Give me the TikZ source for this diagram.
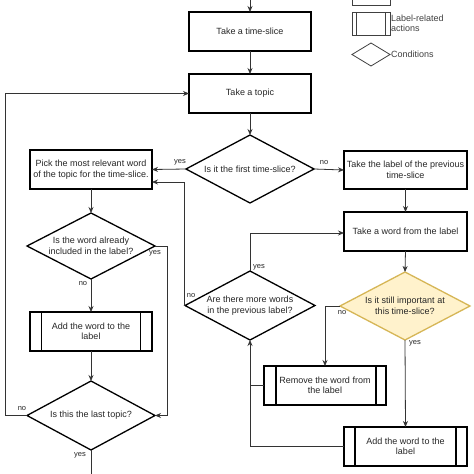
\documentclass[tikz,border=0pt]{standalone}
\usepackage{fontspec}
\setmainfont{Liberation Sans}
\usetikzlibrary{shapes.geometric,arrows.meta}
\definecolor{txtc}{HTML}{262626}
\definecolor{linec}{HTML}{333333}
\definecolor{yfill}{HTML}{FFF2CC}
\definecolor{ydraw}{HTML}{D6B656}
\tikzset{
  box/.style={draw=black, line width=1.3pt, rectangle, minimum width=122pt, minimum height=39pt, inner sep=0pt, outer sep=0pt, align=center, text=txtc, font=\fontsize{9}{10.5}\selectfont},
  dia/.style={draw=black, line width=1.3pt, diamond, minimum width=128pt, minimum height=68pt, inner sep=0pt, outer sep=0pt},
  dtext/.style={align=center, text=txtc, font=\fontsize{9}{10.5}\selectfont, inner sep=0pt},
  conn/.style={draw=linec, line width=0.8pt},
  arr/.style={conn, -{Stealth[length=6pt,width=5pt]}},
  lab/.style={text=txtc, font=\fontsize{7.5}{9}\selectfont, inner sep=0pt},
  leg/.style={draw=black!75, line width=0.8pt},
  legtext/.style={text=black!75, font=\fontsize{9}{10.5}\selectfont, inner sep=0pt, align=left, anchor=west}
}
\begin{document}
\begin{tikzpicture}[x=1pt,y=-1pt]
\useasboundingbox (0,0) rectangle (474,474);
\clip (0,0) rectangle (474,474);
\fill[white] (0,0) rectangle (474,474);

% legend
\node[leg, rectangle, minimum width=38pt, minimum height=23pt, inner sep=0pt, outer sep=0pt] (leg1) at (371,-6.5) {};
\node[leg, rectangle, minimum width=38pt, minimum height=23pt, inner sep=0pt, outer sep=0pt] (leg2) at (371,23.5) {};
\draw[leg] ([xshift=4.5pt]leg2.north west) -- ([xshift=4.5pt]leg2.south west);
\draw[leg] ([xshift=-4.5pt]leg2.north east) -- ([xshift=-4.5pt]leg2.south east);
\node[legtext] (leg2t) at (391,23.5) {Label-related\\actions};
\node[leg, diamond, minimum width=38pt, minimum height=23pt, inner sep=0pt, outer sep=0pt] (leg3) at (371,54.5) {};
\node[legtext] (leg3t) at (391,54.5) {Conditions};

% main boxes
\coordinate (start) at (250,0);
\node[box] (ts) at (250,31.5) {Take a time-slice};
\node[box] (tp) at (250,93.5) {Take a topic};
\node[dia] (d1) at (250,169) {};
\node[dtext] (d1t) at (250,169) {Is it the first time-slice?};
\node[box] (pick) at (91,169.5) {Pick the most relevant word\\of the topic for the time-slice.};
\node[box, minimum width=123pt, minimum height=38pt] (prev) at (405.5,170) {Take the label of the previous\\time-slice};
\node[box, minimum width=123pt] (word) at (405.5,231.5) {Take a word from the label};
\node[dia, minimum height=66pt] (d2) at (91,246) {};
\node[dtext] (d2t) at (91,246) {Is the word already\\included in the label?};
\node[box] (addL) at (91,331.5) {Add the word to the\\label};
\draw[line width=1.3pt] ([xshift=11.5pt]addL.north west) -- ([xshift=11.5pt]addL.south west);
\draw[line width=1.3pt] ([xshift=-11.5pt]addL.north east) -- ([xshift=-11.5pt]addL.south east);
\node[dia, minimum height=69pt] (d3) at (91,415.5) {};
\node[dtext] (d3t) at (91,415.5) {Is this the last topic?};
\node[dia, minimum width=130pt, minimum height=69pt] (d4) at (250,305.5) {};
\node[dtext] (d4t) at (250,305.5) {Are there more words\\in the previous label?};
\node[dia, draw=ydraw, fill=yfill, minimum width=130pt, minimum height=68pt] (dy) at (405,306) {};
\node[dtext] (dyt) at (405,306) {Is it still important at\\this time-slice?};
\node[box] (rem) at (325,385.5) {Remove the word from\\the label};
\draw[line width=1.3pt] ([xshift=12pt]rem.north west) -- ([xshift=12pt]rem.south west);
\draw[line width=1.3pt] ([xshift=-10pt]rem.north east) -- ([xshift=-10pt]rem.south east);
\node[box, minimum width=123pt] (addR) at (405.5,446.5) {Add the word to the\\label};
\draw[line width=1.3pt] ([xshift=11pt]addR.north west) -- ([xshift=11pt]addR.south west);
\draw[line width=1.3pt] ([xshift=-11pt]addR.north east) -- ([xshift=-11pt]addR.south east);

% connectors
\draw[arr] (start) -- (ts.north);
\draw[arr] (ts.south) -- (tp.north);
\draw[arr] (tp.south) -- (d1.north);
\draw[arr] (d1.west) -- (pick.east);
\node[lab] (l1) at (180,162.5) {yes};
\draw[arr] (d1.east) -- (prev.west);
\node[lab] (l2) at (324,162.5) {no};
\draw[arr] (prev.south) -- (word.north);
\draw[arr] (word.south) -- (dy.north);
\coordinate (c1) at (325,306);
\draw[arr] (dy.west) -- (c1) -- (rem.north);
\node[lab] (l3) at (342,313) {no};
\draw[arr] (dy.south) -- (addR.north);
\node[lab] (l4) at (415,343) {yes};
\coordinate (c2) at (250,385.5);
\draw[conn] (rem.west) -- (c2);
\draw[arr] (addR.west) -| (d4.south);
\coordinate (c3) at (250,233);
\draw[conn] (d4.north) -- (c3);
\draw[arr] (c3) -- (c3 -| word.west);
\node[lab] (l5) at (259,267) {yes};
\coordinate (c4) at (184,305.5);
\coordinate (c5) at (184,182);
\draw[arr] (d4.west) -- (c4) -- (c5) -- (c5 -| pick.east);
\node[lab] (l6) at (191,296) {no};
\draw[arr] (pick.south) -- (d2.north);
\coordinate (c6) at (167,246);
\draw[arr] (d2.east) -- (c6) |- (d3.east);
\node[lab] (l7) at (155,253) {yes};
\draw[arr] (d2.south) -- (addL.north);
\node[lab] (l8) at (83,284) {no};
\draw[arr] (addL.south) -- (d3.north);
\coordinate (c7) at (5,415.5);
\draw[arr] (d3.west) -- (c7) |- (tp.west);
\node[lab] (l9) at (22,409) {no};
\coordinate (endp) at (91,474);
\draw[conn] (d3.south) -- (endp);
\node[lab] (l10) at (80,455) {yes};
\end{tikzpicture}
\end{document}
